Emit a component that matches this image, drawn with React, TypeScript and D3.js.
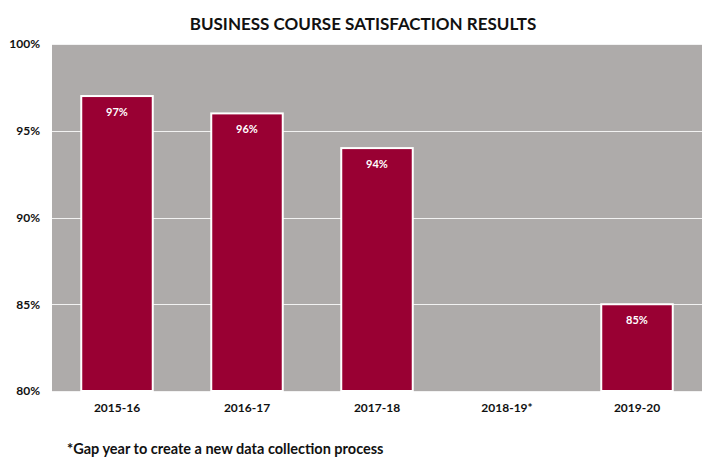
import React, { useEffect, useRef } from 'react';
import * as d3 from 'd3';

const years = ['2015-16', '2016-17', '2017-18', '2018-19*', '2019-20'];
// 2018-19 was a gap year, so no value
const satisfaction: (number | null)[] = [97, 96, 94, null, 85];
const yTicks = [80, 85, 90, 95, 100];

const title = 'BUSINESS COURSE SATISFACTION RESULTS';
const footnote = '*Gap year to create a new data collection process';

const W = 720;
const H = 476;
const FONT = 'Lato, "Open Sans", sans-serif';

export default function App() {
  const ref = useRef<SVGSVGElement>(null);

  useEffect(() => {
    const svg = d3.select(ref.current);
    svg.selectAll('*').remove();

    const margin = { top: 44, right: 18, bottom: 85, left: 52 };
    const width = W - margin.left - margin.right;
    const height = H - margin.top - margin.bottom;

    svg.append('rect').attr('width', W).attr('height', H).attr('fill', '#ffffff');

    svg
      .append('text')
      .attr('x', 363)
      .attr('y', 30)
      .attr('text-anchor', 'middle')
      .style('font-family', FONT)
      .style('font-size', '17px')
      .style('font-weight', 700)
      .style('fill', '#111')
      .text(title);

    const g = svg.append('g').attr('transform', `translate(${margin.left},${margin.top})`);

    const x = d3.scaleBand().domain(years).range([0, width]).paddingInner(0.45).paddingOuter(0.225);
    const y = d3.scaleLinear().domain([80, 100]).range([height, 0]);

    // plot background
    g.append('rect').attr('width', width).attr('height', height).attr('fill', '#aeabaa');

    // gridlines
    g.selectAll('line.grid')
      .data(yTicks)
      .enter()
      .append('line')
      .attr('class', 'grid')
      .attr('x1', 0)
      .attr('x2', width)
      .attr('y1', (d) => Math.round(y(d)) + 0.5)
      .attr('y2', (d) => Math.round(y(d)) + 0.5)
      .attr('stroke', '#f2f2f2')
      .attr('stroke-width', 1.2);

    // y axis labels
    const yAxis = g
      .append('g')
      .call(d3.axisLeft(y).tickValues(yTicks).tickSize(0).tickPadding(12).tickFormat((d) => `${d}%`));
    yAxis.select('.domain').remove();
    yAxis
      .selectAll('text')
      .style('font-family', FONT)
      .style('font-size', '12px')
      .style('font-weight', 700)
      .style('fill', '#111');

    // x axis labels
    const xAxis = g
      .append('g')
      .attr('transform', `translate(0,${height})`)
      .call(d3.axisBottom(x).tickSize(0).tickPadding(12));
    xAxis.select('.domain').remove();
    xAxis
      .selectAll('text')
      .style('font-family', FONT)
      .style('font-size', '12px')
      .style('font-weight', 700)
      .style('fill', '#111');

    const data = years
      .map((year, i) => ({ year, value: satisfaction[i] }))
      .filter((d) => d.value !== null) as { year: string; value: number }[];

    g.selectAll('rect.bar')
      .data(data)
      .enter()
      .append('rect')
      .attr('class', 'bar')
      .attr('x', (d) => x(d.year)!)
      .attr('y', (d) => y(d.value))
      .attr('width', x.bandwidth())
      .attr('height', (d) => height - y(d.value))
      .attr('fill', '#990033')
      .attr('stroke', '#ffffff')
      .attr('stroke-width', 2);

    g.selectAll('text.val')
      .data(data)
      .enter()
      .append('text')
      .attr('class', 'val')
      .attr('x', (d) => x(d.year)! + x.bandwidth() / 2)
      .attr('y', (d) => y(d.value) + 20)
      .attr('text-anchor', 'middle')
      .style('font-family', FONT)
      .style('font-size', '11px')
      .style('font-weight', 700)
      .style('fill', '#ffffff')
      .text((d) => `${d.value}%`);

    svg
      .append('text')
      .attr('x', 67)
      .attr('y', 454)
      .style('font-family', FONT)
      .style('font-size', '14.5px')
      .style('font-weight', 700)
      .style('fill', '#111')
      .text(footnote);
  }, []);

  return <svg ref={ref} width={W} height={H} style={{ display: 'block', margin: -8 }} />;
}
